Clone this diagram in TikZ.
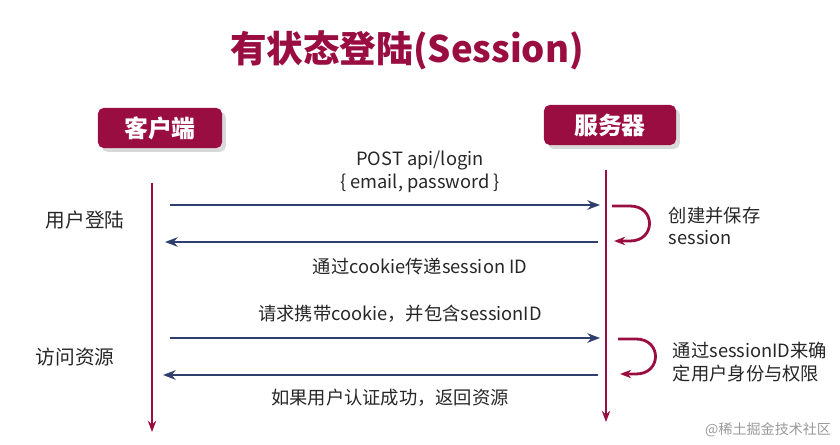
\documentclass[tikz,border=0pt]{standalone}
\usepackage{fontspec}
\setmainfont{Noto Sans CJK SC}
\usetikzlibrary{arrows.meta, positioning, shadows}
\definecolor{sessred}{HTML}{9A0D40}
\definecolor{msgblue}{HTML}{2E3F6E}

\tikzset{
  actor/.style={rectangle, rounded corners=4pt, minimum width=3.1cm, minimum height=1cm, text centered, fill=sessred, text=white, font=\bfseries\fontsize{17}{19}\selectfont, drop shadow={opacity=0.3}},
  lifeline/.style={draw=sessred, line width=1.2pt, -{Stealth[length=8pt]}},
  msg/.style={draw=msgblue, line width=1.3pt, -{Stealth[length=9pt]}},
  selfloop/.style={draw=sessred, line width=2pt, -{Stealth[length=8pt]}},
  lbl/.style={font=\fontsize{13}{16}\selectfont, text=black!85, align=center}
}

\begin{document}
\begin{tikzpicture}[x=0.025cm, y=-0.025cm]
\useasboundingbox (0,0) rectangle (840,445);

% Title
\node[font=\bfseries\fontsize{26}{30}\selectfont, text=sessred] (title) at (407,50) {有状态登陆(Session)};

% Actors
\node[actor] (client) at (160,128) {客户端};
\node[actor, minimum width=3.3cm] (server) at (610,125) {服务器};

% Lifelines
\coordinate (ctop) at (152,183);
\coordinate (cbot) at (152,432);
\coordinate (stop) at (606,170);
\coordinate (sbot) at (606,422);
\draw[lifeline] (ctop) -- (cbot);
\draw[lifeline] (stop) -- (sbot);

% Message end points
\coordinate (c1) at (170,205); \coordinate (s1) at (600,205);
\coordinate (s2) at (598,242); \coordinate (c2) at (165,242);
\coordinate (c3) at (170,338); \coordinate (s3) at (600,338);
\coordinate (s4) at (598,375); \coordinate (c4) at (163,375);

% Login phase
\draw[msg] (c1) -- (s1);
\draw[msg] (s2) -- (c2);
\node[lbl] (login) at (420,172) {POST api/login\\\{ email, password \}};
\node[lbl] (cookie) at (420,267) {通过cookie传递session ID};

% Resource phase
\draw[msg] (c3) -- (s3);
\draw[msg] (s4) -- (c4);
\node[lbl] (req) at (400,314) {请求携带cookie，并包含sessionID};
\node[lbl] (resp) at (390,398) {如果用户认证成功，返回资源};

% Phase labels
\node[lbl, font=\fontsize{14}{16}\selectfont] (phase1) at (85,220) {用户登陆};
\node[lbl, font=\fontsize{14}{16}\selectfont] (phase2) at (75,357) {访问资源};

% Server self loops
\coordinate (l1a) at (612,206); \coordinate (l1b) at (614,241);
\coordinate (l2a) at (618,339); \coordinate (l2b) at (620,374);
\draw[selfloop] (l1a) -- (630,206) .. controls (656,206) and (656,241) .. (630,241) -- (l1b);
\draw[selfloop] (l2a) -- (636,339) .. controls (662,339) and (662,374) .. (636,374) -- (l2b);
\node[lbl, anchor=west, align=left] (save) at (664,226) {创建并保存\\session};
\node[lbl, anchor=west, align=left] (check) at (668,362) {通过sessionID来确\\定用户身份与权限};

% Watermark
\node[font=\fontsize{10}{12}\selectfont, text=black!40, anchor=east] (mark) at (836,430) {@稀土掘金技术社区};
\end{tikzpicture}
\end{document}
